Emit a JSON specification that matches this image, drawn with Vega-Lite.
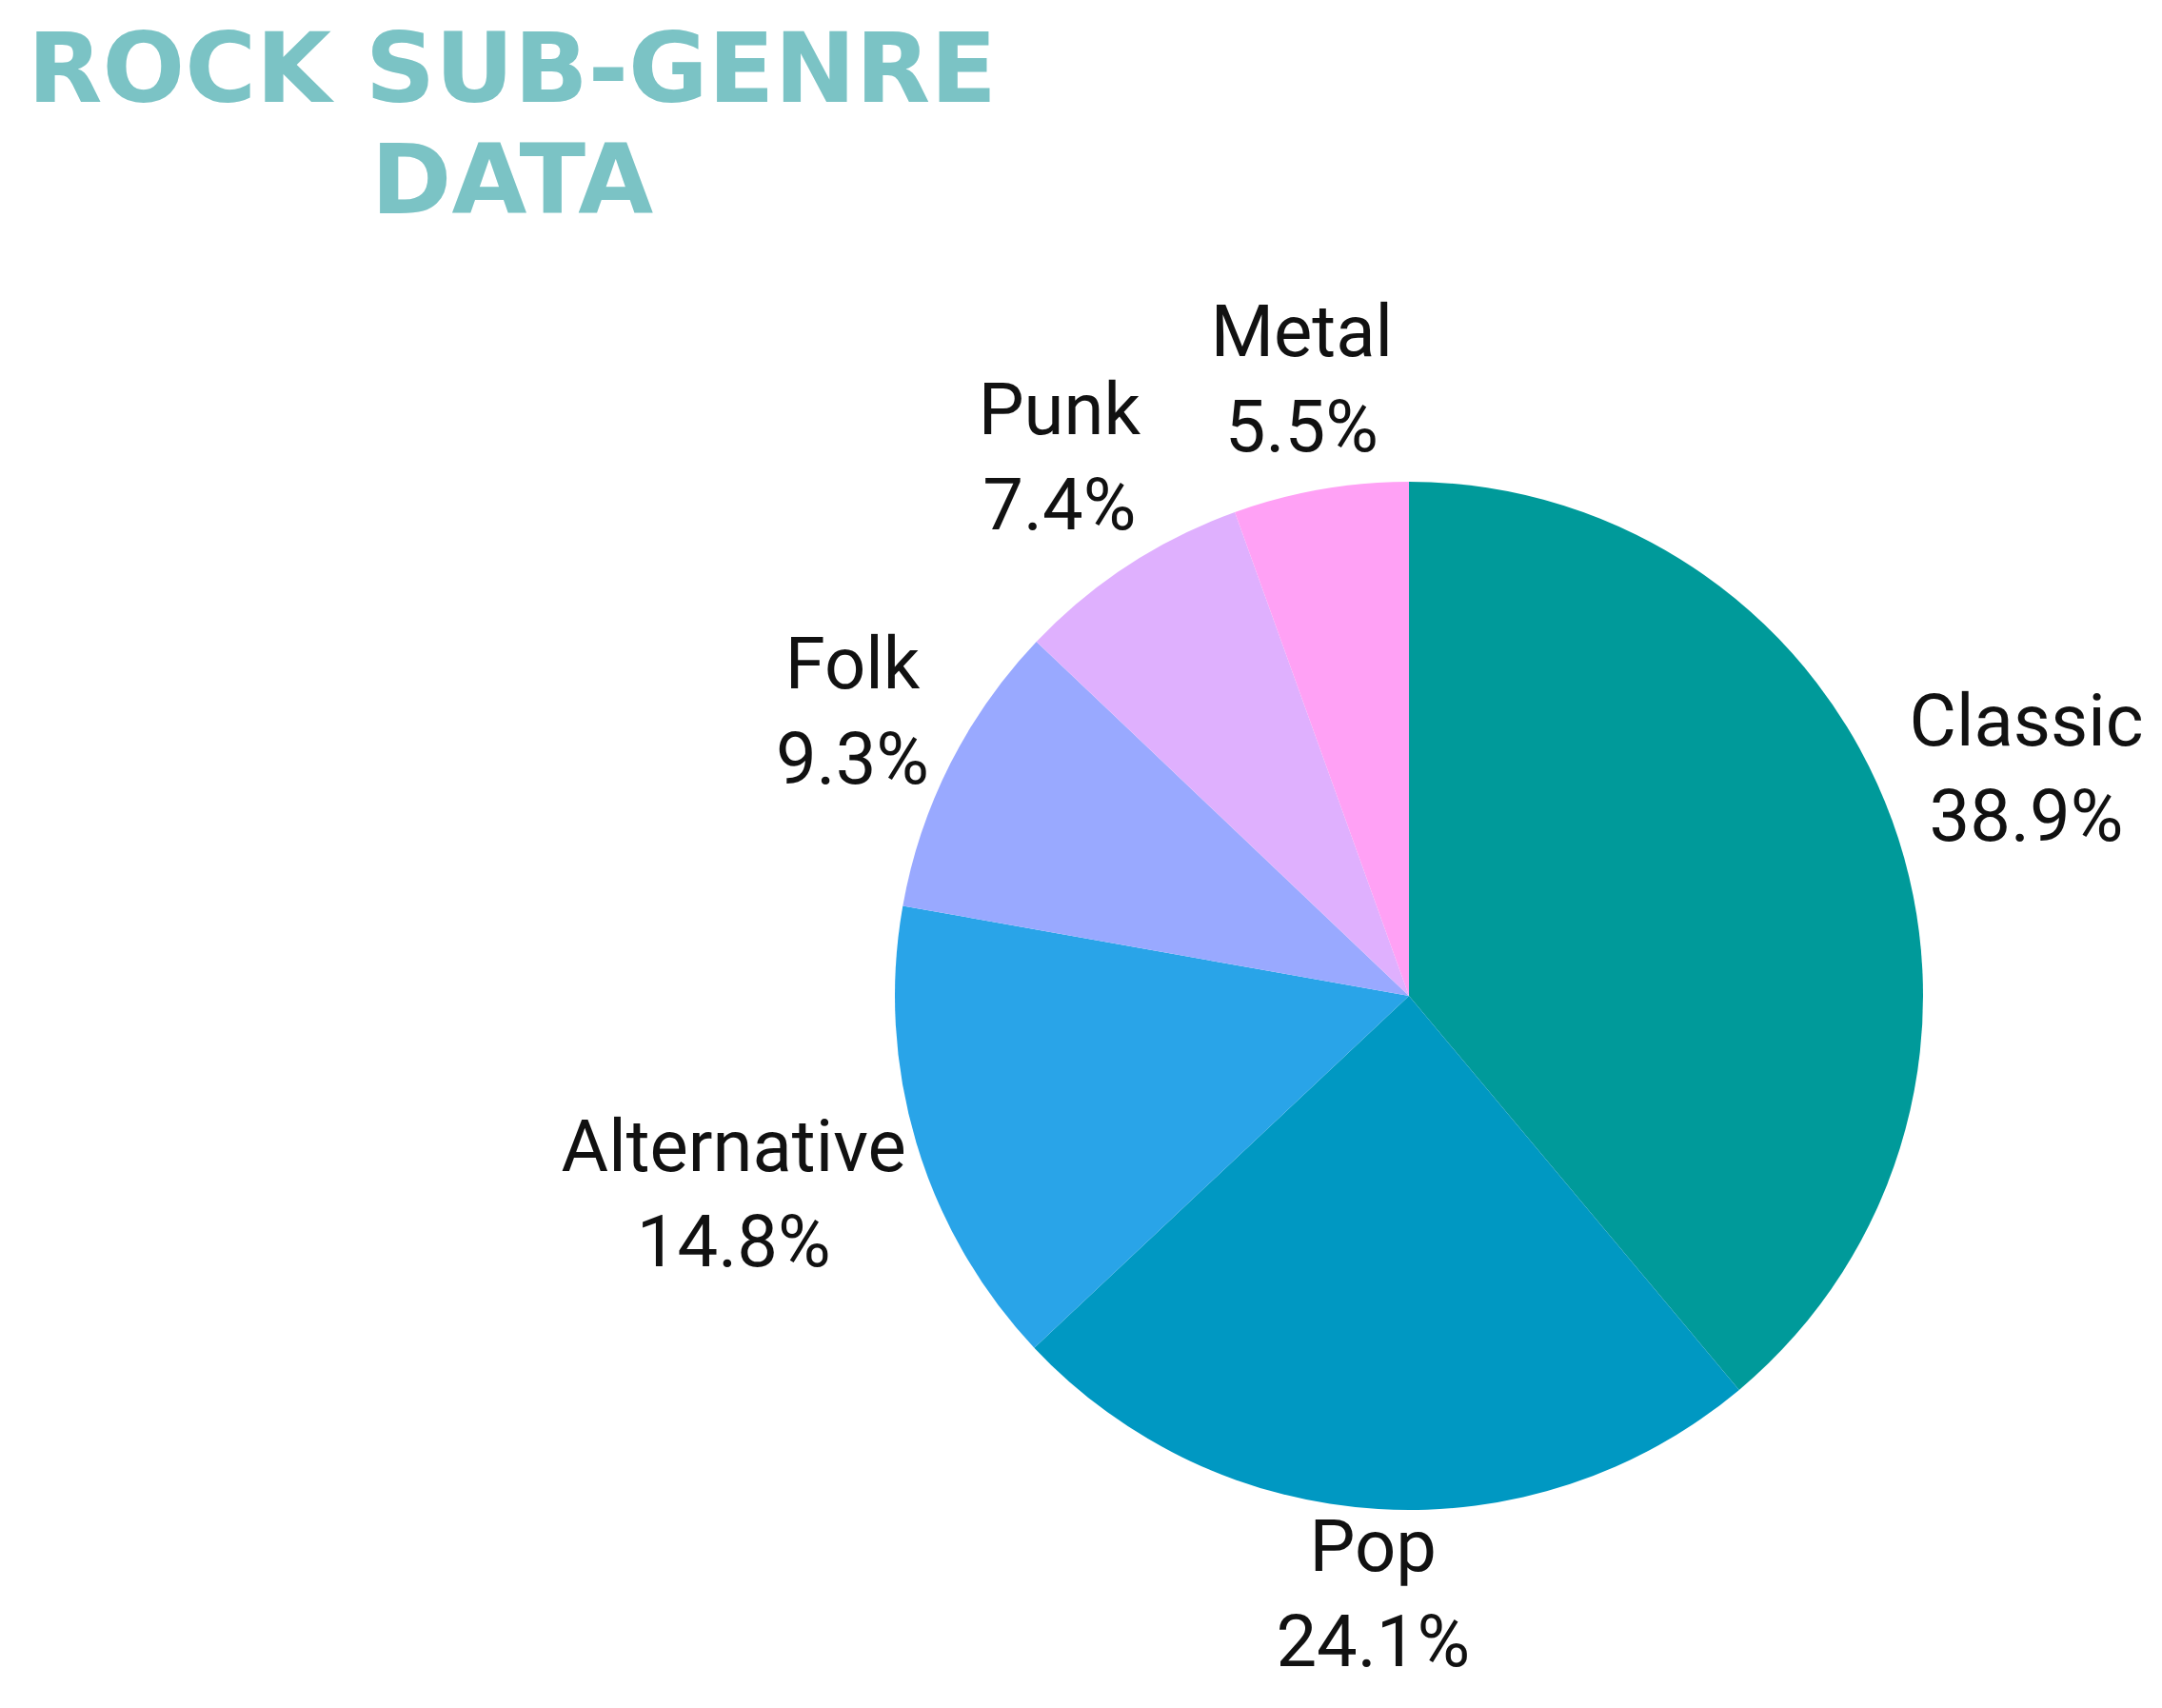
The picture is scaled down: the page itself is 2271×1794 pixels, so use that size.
{
  "$schema": "https://vega.github.io/schema/vega-lite/v6.json",
  "autosize": {"type": "none"},
  "width": 1400,
  "height": 1400,
  "padding": {"left": 780, "top": 346, "right": 91, "bottom": 48},
  "background": "white",
  "config": {"view": {"stroke": null}},
  "title": {
    "text": ["ROCK SUB-GENRE", "DATA"],
    "anchor": "start",
    "frame": "group",
    "align": "center",
    "dx": -242,
    "offset": -16,
    "font": "DejaVu Sans",
    "fontWeight": "bold",
    "fontSize": 102,
    "lineHeight": 117,
    "color": "#7bc3c5"
  },
  "data": {
    "values": [
      {"genre": "Classic", "value": 38.9, "label": "Classic\n38.9%"},
      {"genre": "Pop", "value": 24.1, "label": "Pop\n24.1%"},
      {"genre": "Alternative", "value": 14.8, "label": "Alternative\n14.8%"},
      {"genre": "Folk", "value": 9.3, "label": "Folk\n9.3%"},
      {"genre": "Punk", "value": 7.4, "label": "Punk\n7.4%"},
      {"genre": "Metal", "value": 5.5, "label": "Metal\n5.5%"}
    ]
  },
  "encoding": {
    "theta": {"field": "value", "type": "quantitative", "stack": true},
    "order": {"field": "value", "type": "quantitative", "sort": "descending"}
  },
  "layer": [
    {
      "mark": {"type": "arc", "outerRadius": 540},
      "encoding": {
        "color": {
          "field": "genre",
          "type": "nominal",
          "legend": null,
          "scale": {
            "domain": ["Classic", "Pop", "Alternative", "Folk", "Punk", "Metal"],
            "range": ["#009a9a", "#0098c2", "#29a4e8", "#99a9ff", "#dfb0fe", "#ffa1f5"]
          }
        }
      }
    },
    {
      "mark": {"type": "text", "radius": 690, "dy": -50, "font": "Roboto", "fontSize": 76, "lineBreak": "\n", "lineHeight": 100, "align": "center", "baseline": "middle", "color": "#111111"},
      "encoding": {
        "text": {"condition": {"test": "datum.genre === 'Classic'", "field": "label"}, "value": ""}
      }
    },
    {
      "mark": {"type": "text", "radius": 740, "dy": -50, "font": "Roboto", "fontSize": 76, "lineBreak": "\n", "lineHeight": 100, "align": "center", "baseline": "middle", "color": "#111111"},
      "encoding": {
        "text": {"condition": {"test": "datum.genre === 'Alternative'", "field": "label"}, "value": ""}
      }
    },
    {
      "mark": {"type": "text", "radius": 632, "dy": -50, "font": "Roboto", "fontSize": 76, "lineBreak": "\n", "lineHeight": 100, "align": "center", "baseline": "middle", "color": "#111111"},
      "encoding": {
        "text": {"condition": {"test": "datum.genre === 'Pop'", "field": "label"}, "value": ""}
      }
    },
    {
      "mark": {"type": "text", "radius": 672, "dy": -50, "font": "Roboto", "fontSize": 76, "lineBreak": "\n", "lineHeight": 100, "align": "center", "baseline": "middle", "color": "#111111"},
      "encoding": {
        "text": {"condition": {"test": "datum.genre === 'Punk'", "field": "label"}, "value": ""}
      }
    },
    {
      "mark": {"type": "text", "radius": 655, "dy": -50, "font": "Roboto", "fontSize": 76, "lineBreak": "\n", "lineHeight": 100, "align": "center", "baseline": "middle", "color": "#111111"},
      "encoding": {
        "text": {"condition": {"test": "datum.genre === 'Folk' || datum.genre === 'Metal'", "field": "label"}, "value": ""}
      }
    }
  ]
}
